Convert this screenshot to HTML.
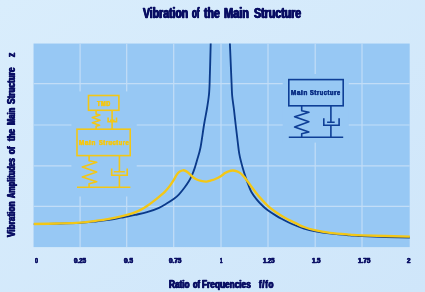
<!DOCTYPE html>
<html><head><meta charset="utf-8"><title>Vibration of the Main Structure</title>
<style>
html,body{margin:0;padding:0;background:#d3e9fb;}
#c{position:relative;width:425px;height:292px;overflow:hidden;font-family:"Liberation Sans",sans-serif;font-weight:bold}
svg{display:block;position:absolute;left:0;top:0}
.w{position:absolute;white-space:nowrap;line-height:1;transform-origin:0 0;display:block}
.T{font-size:13.9px;letter-spacing:0px;-webkit-text-stroke:0.5px currentColor;text-shadow:0.75px 0 0 currentColor,-0.75px 0 0 currentColor}
.A{font-size:10.9px;letter-spacing:0px;-webkit-text-stroke:0.4px currentColor;text-shadow:0.6px 0 0 currentColor,-0.6px 0 0 currentColor}
.N{font-size:6.6px;letter-spacing:0px;-webkit-text-stroke:0.35px currentColor;text-shadow:0.45px 0 0 currentColor,-0.45px 0 0 currentColor}
.S{font-size:7.9px;letter-spacing:0.9px;-webkit-text-stroke:0.25px currentColor;text-shadow:0.4px 0 0 currentColor,-0.4px 0 0 currentColor}
#r{position:absolute;left:14.6px;top:236.5px;width:0;height:0;transform:rotate(-90deg);transform-origin:0 0}
</style></head><body>
<div id="c">
<svg width="425" height="292" viewBox="0 0 425 292">
<defs><linearGradient id="bg" x1="0" y1="0" x2="1" y2="1"><stop offset="0" stop-color="#d9edfc"/><stop offset="1" stop-color="#cfe6fa"/></linearGradient></defs>
<rect width="425" height="292" fill="url(#bg)"/>
<rect x="33.55" y="43.55" width="376.15" height="203.55" fill="#97c8f4"/>
<g stroke="#c2ddf7" stroke-width="1.2"><line x1="80.10" y1="43.55" x2="80.10" y2="247.10"/><line x1="126.70" y1="43.55" x2="126.70" y2="247.10"/><line x1="173.70" y1="43.55" x2="173.70" y2="247.10"/><line x1="221.00" y1="43.55" x2="221.00" y2="247.10"/><line x1="268.00" y1="43.55" x2="268.00" y2="247.10"/><line x1="315.20" y1="43.55" x2="315.20" y2="247.10"/><line x1="362.00" y1="43.55" x2="362.00" y2="247.10"/><line x1="33.55" y1="83.70" x2="409.70" y2="83.70"/><line x1="33.55" y1="125.00" x2="409.70" y2="125.00"/><line x1="33.55" y1="165.80" x2="409.70" y2="165.80"/><line x1="33.55" y1="206.40" x2="409.70" y2="206.40"/></g>
<rect x="71.4" y="91.4" width="65.3" height="105.1" fill="#97c8f4"/>
<rect x="282.7" y="74" width="66.1" height="68.6" fill="#97c8f4"/>
<g class="y" fill="none" stroke="#f3c716" stroke-width="1.6" stroke-linejoin="round">
<rect x="88.5" y="95.5" width="30.4" height="14.8" stroke-linejoin="miter"/>
<path d="M96.1 110.3V114L99.9 115L92.3 117.4L100 120.2L92.3 122.8L99.6 125.3L96.1 126.3V129.1"/>
<path d="M112.1 110.3V120.2M110 120.2H114.7M108.1 117.6V121.8H116.5V117.6M112.1 121.8V129.1" stroke-linejoin="miter"/>
<rect x="77" y="129.2" width="53.2" height="26.4" stroke-linejoin="miter"/>
<path d="M89.1 155.6V160.8L96.7 162.3L82.3 166.9L96.7 172L82.3 177.1L96.7 181.7L89.1 183.8V187.3"/>
<path d="M119.4 155.6V171.8M113.8 171.8H124.8M111.7 168.4V175.3H127.2V168.4M119.4 175.3V187.3" stroke-linejoin="miter"/>
<path d="M77 187.3H130.4"/>
</g>
<g fill="none" stroke="#0e3e96" stroke-width="1.6" stroke-linejoin="round">
<rect x="288.8" y="79.6" width="54.4" height="26.2" stroke-linejoin="miter"/>
<path d="M301.7 105.8V110.8L308.9 112.3L294.6 116.8L308.9 121.8L294.6 127.1L308.9 131.9L301.7 133.8V137.3"/>
<path d="M330.9 105.8V122.2M327.1 122.2H334.7M323.8 118.3V125.2H339.1V118.3M330.9 125.2V137.3" stroke-linejoin="miter"/>
<path d="M288.8 137.3H343.2"/>
</g>
<clipPath id="cp"><rect x="33.55" y="43.05" width="376.65" height="204.05"/></clipPath>
<g clip-path="url(#cp)" fill="none" stroke-linecap="butt" stroke-linejoin="round">
<path d="M33.60 224.10 C37.50 224.03 49.27 223.90 57.00 223.70 C64.73 223.50 73.33 223.30 80.00 222.90 C86.67 222.50 92.17 221.80 97.00 221.30 C101.83 220.80 105.00 220.50 109.00 219.90 C113.00 219.30 118.00 218.25 121.00 217.70 C124.00 217.15 124.67 217.07 127.00 216.60 C129.33 216.13 131.67 215.63 135.00 214.90 C138.33 214.17 143.00 213.38 147.00 212.20 C151.00 211.02 155.80 209.20 159.00 207.80 C162.20 206.40 163.70 205.30 166.20 203.80 C168.70 202.30 171.90 200.33 174.00 198.80 C176.10 197.27 177.10 196.40 178.80 194.60 C180.50 192.80 182.50 190.27 184.20 188.00 C185.90 185.73 187.70 183.13 189.00 181.00 C190.30 178.87 191.07 177.30 192.00 175.20 C192.93 173.10 193.75 170.93 194.60 168.40 C195.45 165.87 196.12 163.48 197.10 160.00 C198.08 156.52 199.35 153.33 200.50 147.50 C201.65 141.67 202.93 131.42 204.00 125.00 C205.07 118.58 206.10 113.83 206.90 109.00 C207.70 104.17 208.35 100.17 208.80 96.00 C209.25 91.83 209.28 92.75 209.60 84.00 C209.92 75.25 210.52 50.25 210.70 43.50" stroke="#0b3a8a" stroke-width="1.85"/>
<path d="M229.90 43.50 C230.18 50.25 231.22 75.25 231.60 84.00 C231.98 92.75 231.82 91.83 232.20 96.00 C232.58 100.17 233.32 104.17 233.90 109.00 C234.48 113.83 235.10 119.83 235.70 125.00 C236.30 130.17 236.88 135.10 237.50 140.00 C238.12 144.90 238.60 150.00 239.40 154.40 C240.20 158.80 241.20 162.40 242.30 166.40 C243.40 170.40 244.98 175.30 246.00 178.40 C247.02 181.50 247.50 182.73 248.40 185.00 C249.30 187.27 250.00 189.57 251.40 192.00 C252.80 194.43 254.90 197.27 256.80 199.60 C258.70 201.93 260.97 204.23 262.80 206.00 C264.63 207.77 265.60 208.60 267.80 210.20 C270.00 211.80 273.63 214.13 276.00 215.60 C278.37 217.07 279.33 217.60 282.00 219.00 C284.67 220.40 288.33 222.40 292.00 224.00 C295.67 225.60 300.08 227.37 304.00 228.60 C307.92 229.83 310.92 230.55 315.50 231.40 C320.08 232.25 325.75 233.03 331.50 233.70 C337.25 234.37 344.92 234.98 350.00 235.40 C355.08 235.82 352.02 235.82 362.00 236.20 C371.98 236.58 401.92 237.45 409.90 237.70" stroke="#0b3a8a" stroke-width="1.85"/>
<path d="M33.60 224.00 C37.50 223.92 49.27 223.73 57.00 223.50 C64.73 223.27 73.33 223.08 80.00 222.60 C86.67 222.12 92.17 221.23 97.00 220.60 C101.83 219.97 105.00 219.50 109.00 218.80 C113.00 218.10 118.00 217.05 121.00 216.40 C124.00 215.75 124.67 215.58 127.00 214.90 C129.33 214.22 132.67 213.18 135.00 212.30 C137.33 211.42 139.00 210.65 141.00 209.60 C143.00 208.55 145.00 207.33 147.00 206.00 C149.00 204.67 151.00 203.13 153.00 201.60 C155.00 200.07 157.00 198.47 159.00 196.80 C161.00 195.13 163.17 193.47 165.00 191.60 C166.83 189.73 168.53 187.57 170.00 185.60 C171.47 183.63 172.67 181.63 173.80 179.80 C174.93 177.97 175.83 175.97 176.80 174.60 C177.77 173.23 178.57 172.32 179.60 171.60 C180.63 170.88 181.87 170.33 183.00 170.30 C184.13 170.27 185.33 170.82 186.40 171.40 C187.47 171.98 188.33 172.87 189.40 173.80 C190.47 174.73 191.67 176.10 192.80 177.00 C193.93 177.90 194.83 178.55 196.20 179.20 C197.57 179.85 199.30 180.50 201.00 180.90 C202.70 181.30 204.82 181.65 206.40 181.60 C207.98 181.55 209.00 181.03 210.50 180.60 C212.00 180.17 213.68 179.73 215.40 179.00 C217.12 178.27 219.20 177.18 220.80 176.20 C222.40 175.22 223.70 173.92 225.00 173.10 C226.30 172.28 227.30 171.73 228.60 171.30 C229.90 170.87 231.40 170.50 232.80 170.50 C234.20 170.50 235.80 170.90 237.00 171.30 C238.20 171.70 239.00 172.18 240.00 172.90 C241.00 173.62 242.00 174.55 243.00 175.60 C244.00 176.65 244.80 177.63 246.00 179.20 C247.20 180.77 248.60 182.83 250.20 185.00 C251.80 187.17 253.70 189.80 255.60 192.20 C257.50 194.60 259.57 197.13 261.60 199.40 C263.63 201.67 265.40 203.67 267.80 205.80 C270.20 207.93 273.23 210.27 276.00 212.20 C278.77 214.13 281.73 215.87 284.40 217.40 C287.07 218.93 288.73 219.80 292.00 221.40 C295.27 223.00 300.20 225.53 304.00 227.00 C307.80 228.47 310.47 229.23 314.80 230.20 C319.13 231.17 324.13 232.07 330.00 232.80 C335.87 233.53 344.67 234.17 350.00 234.60 C355.33 235.03 352.02 235.07 362.00 235.40 C371.98 235.73 401.92 236.40 409.90 236.60" stroke="#f3c716" stroke-width="2.35"/>
</g>

</svg>
<span class="w T" style="left:142.50px;top:5.80px;font-size:14.3px;transform:scaleX(0.7325);color:#0a0f64">Vibration</span>
<span class="w T" style="left:191.90px;top:5.80px;font-size:14.3px;transform:scaleX(0.5481);color:#0a0f64">of</span>
<span class="w T" style="left:203.60px;top:5.80px;font-size:14.3px;transform:scaleX(0.7365);color:#0a0f64">the</span>
<span class="w T" style="left:223.90px;top:5.80px;font-size:14.3px;transform:scaleX(0.7674);color:#0a0f64">Main</span>
<span class="w T" style="left:253.60px;top:5.80px;font-size:14.3px;transform:scaleX(0.7426);color:#0a0f64">Structure</span>
<span class="w A" style="left:168.50px;top:278.97px;font-size:10.9px;transform:scaleX(0.7564);color:#0a0f64">Ratio</span>
<span class="w A" style="left:192.50px;top:278.97px;font-size:10.9px;transform:scaleX(0.6809);color:#0a0f64">of</span>
<span class="w A" style="left:202.40px;top:278.97px;font-size:10.9px;transform:scaleX(0.7605);color:#0a0f64">Frequencies</span>
<span class="w A" style="left:259.40px;top:278.97px;font-size:10.9px;letter-spacing:0.8px;transform:scaleX(0.7445);color:#0a0f64">f/fo</span>
<span class="w N" style="left:34.50px;top:257.51px;font-size:6.6px;transform:scaleX(0.8170);color:#0a0f64">0</span>
<span class="w N" style="left:74.00px;top:257.51px;font-size:6.6px;transform:scaleX(0.9343);color:#0a0f64">0.25</span>
<span class="w N" style="left:124.00px;top:257.51px;font-size:6.6px;transform:scaleX(0.9813);color:#0a0f64">0.5</span>
<span class="w N" style="left:169.35px;top:257.51px;font-size:6.6px;transform:scaleX(0.9577);color:#0a0f64">0.75</span>
<span class="w N" style="left:220.10px;top:257.51px;font-size:6.6px;transform:scaleX(0.6536);color:#0a0f64">1</span>
<span class="w N" style="left:263.25px;top:257.51px;font-size:6.6px;transform:scaleX(0.8954);color:#0a0f64">1.25</span>
<span class="w N" style="left:311.60px;top:257.51px;font-size:6.6px;transform:scaleX(0.9158);color:#0a0f64">1.5</span>
<span class="w N" style="left:357.80px;top:257.51px;font-size:6.6px;transform:scaleX(0.9655);color:#0a0f64">1.75</span>
<span class="w N" style="left:406.50px;top:257.51px;font-size:6.6px;transform:scaleX(0.9260);color:#0a0f64">2</span>
<span class="w S" style="left:97.40px;top:99.64px;font-size:7.4px;transform:scaleX(0.7408);color:#f3c716">TMD</span>
<span class="w S" style="left:78.90px;top:138.73px;font-size:8.0px;transform:scaleX(0.7789);color:#f3c716">Main</span>
<span class="w S" style="left:98.70px;top:138.73px;font-size:8.0px;transform:scaleX(0.6944);color:#f3c716">Structure</span>
<span class="w S" style="left:290.90px;top:88.83px;font-size:8.0px;transform:scaleX(0.7789);color:#0f3488">Main</span>
<span class="w S" style="left:310.30px;top:88.83px;font-size:8.0px;transform:scaleX(0.7037);color:#0f3488">Structure</span>
<div id="r">
<span class="w A" style="left:-0.10px;top:-9.23px;font-size:10.9px;transform:scaleX(0.7553);color:#0a0f64">Vibration</span>
<span class="w A" style="left:38.80px;top:-9.23px;font-size:10.9px;transform:scaleX(0.6727);color:#0a0f64">Amplitudes</span>
<span class="w A" style="left:82.80px;top:-9.23px;font-size:10.9px;transform:scaleX(0.7295);color:#0a0f64">of</span>
<span class="w A" style="left:96.20px;top:-9.23px;font-size:10.9px;transform:scaleX(0.7403);color:#0a0f64">the</span>
<span class="w A" style="left:112.00px;top:-9.23px;font-size:10.9px;transform:scaleX(0.6932);color:#0a0f64">Main</span>
<span class="w A" style="left:133.30px;top:-9.23px;font-size:10.9px;transform:scaleX(0.7559);color:#0a0f64">Structure</span>
<span class="w A" style="left:179.50px;top:-9.23px;font-size:10.9px;transform:scaleX(0.7702);color:#0a0f64">z</span>
</div>
</div>
</body></html>
